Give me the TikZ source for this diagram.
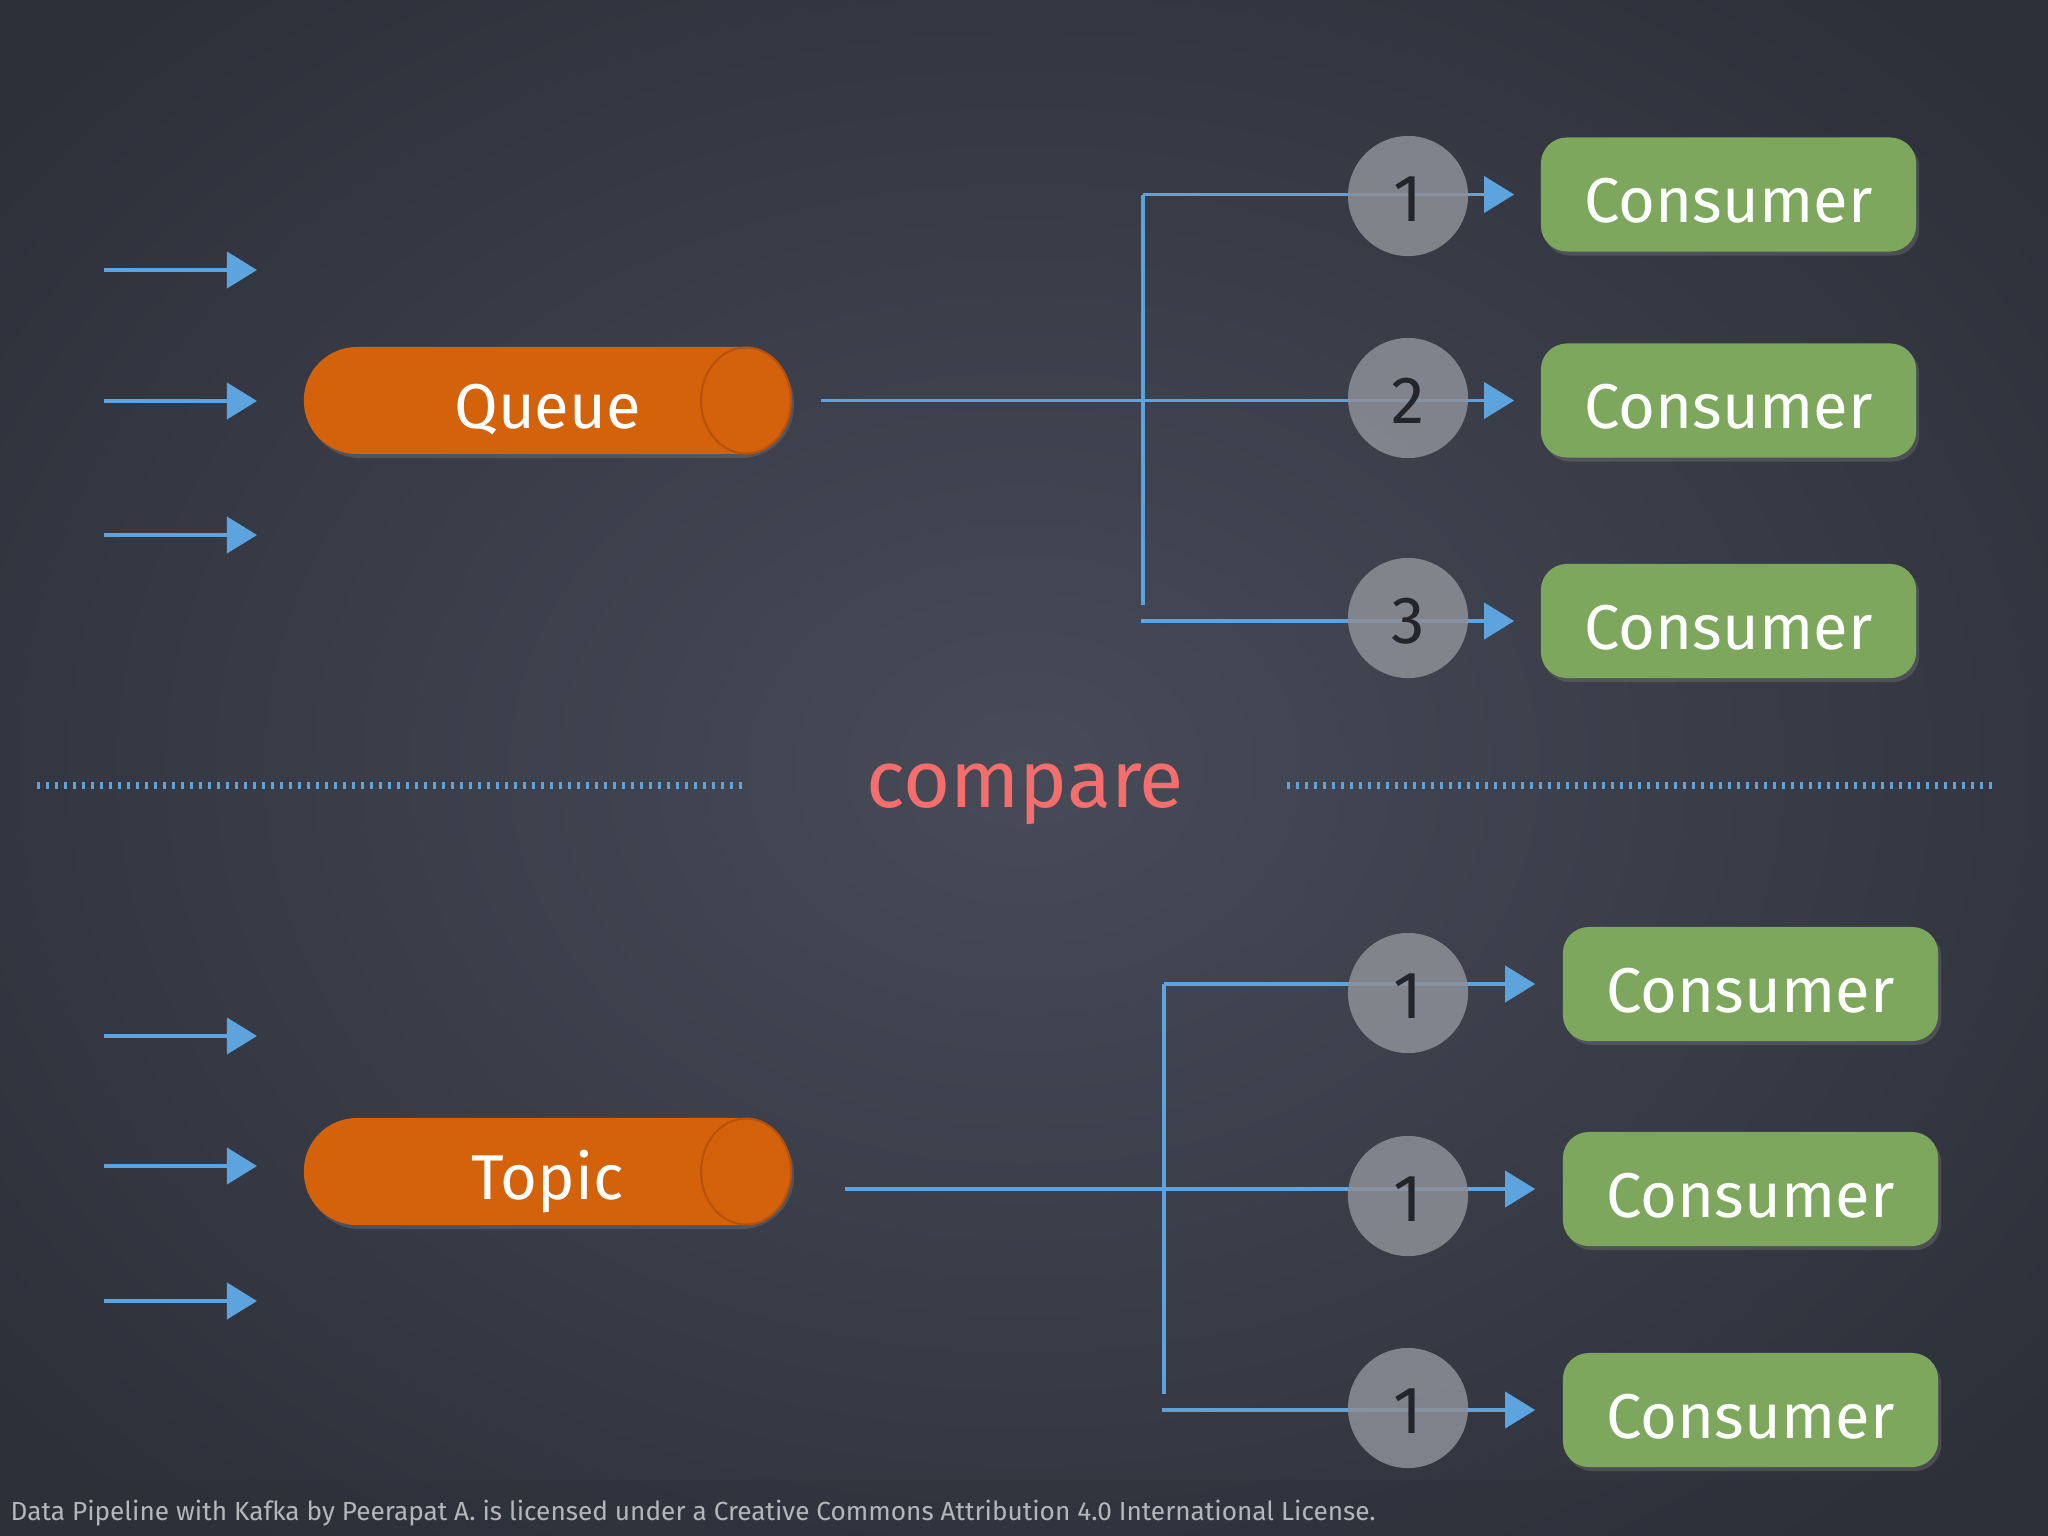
\documentclass[tikz,border=0pt]{standalone}
\usepackage{fontspec}
\setmainfont{Fira Sans}
\usetikzlibrary{arrows.meta,shadows}
\definecolor{bgmid}{HTML}{474B58}
\definecolor{bgout}{HTML}{2D3039}
\definecolor{orangec}{HTML}{D4620A}
\definecolor{orangee}{HTML}{B8520A}
\definecolor{greenc}{HTML}{7DA75C}
\definecolor{grayc}{HTML}{8E9098}
\definecolor{bluec}{HTML}{5DA3DE}
\definecolor{comparec}{HTML}{F46E6E}
\definecolor{footc}{HTML}{B5B6BC}
\definecolor{numc}{HTML}{23252B}
\tikzset{
  flow/.style={draw=bluec, line width=1.1pt, -{Triangle[length=0.3cm,width=0.36cm]}},
  flowline/.style={draw=bluec, line width=1.1pt},
  pill/.style={fill=orangec, rounded corners=0.53cm, minimum width=4.87cm, minimum height=1.07cm,
    inner sep=0pt,
    drop shadow={opacity=0.35, shadow xshift=0.03cm, shadow yshift=-0.04cm}},
  pilltext/.style={text=white, font=\fontsize{18}{20}\selectfont, inner sep=0pt, text height=0.56cm, text depth=0pt},
  consumer/.style={fill=greenc, rounded corners=0.26cm, minimum width=3.75cm, minimum height=1.14cm,
    text=white, font=\fontsize{18}{20}\selectfont, inner sep=0pt, text height=0.56cm, text depth=0pt,
    drop shadow={opacity=0.35, shadow xshift=0.03cm, shadow yshift=-0.04cm}},
  numdisc/.style={circle, fill=grayc, fill opacity=0.85, minimum size=1.2cm, inner sep=0pt},
  numtext/.style={text=numc, font=\fontsize{19}{21}\selectfont, inner sep=0pt, text height=0.5cm, text depth=0pt},
  sep/.style={draw=bluec, line width=0.07cm, dash pattern=on 0.03cm off 0.06cm}
}
\begin{document}
\begin{tikzpicture}[x=0.01cm,y=-0.01cm]
\useasboundingbox (0,0) rectangle (2048,1536);
\fill[bgmid] (0,0) rectangle (2048,1536);
\shade[inner color=bgmid, outer color=bgout, opacity=1] (-300,-250) rectangle (2348,1786);
\fill[bgout, opacity=0.35] (0,1480) rectangle (2048,1536);

% left incoming arrows
\foreach \i/\yy in {1/270, 2/401, 3/535, 4/1036, 5/1166, 6/1301} {
  \coordinate (ls\i) at (104,\yy);
  \coordinate (le\i) at (257,\yy);
  \draw[flow] (ls\i) -- (le\i);
}

% queue & topic
\node[pill] (q) at (547.5,400.5) {};
\draw[draw=orangee, line width=0.6pt, fill=orangec] (746,400.5) ellipse [x radius=45, y radius=53];
\node[pill] (t) at (547.5,1171.5) {};
\draw[draw=orangee, line width=0.6pt, fill=orangec] (746,1171.5) ellipse [x radius=45, y radius=53];
\node[pilltext] (qt) at (q) {Queue};
\node[pilltext] (tt) at (t) {Topic};

% consumers
\node[consumer] (k1) at (1728.5,194.5) {Consumer};
\node[consumer] (k2) at (1728.5,400.5) {Consumer};
\node[consumer] (k3) at (1728.5,621) {Consumer};
\node[consumer] (m1) at (1750.5,984) {Consumer};
\node[consumer] (m2) at (1750.5,1189) {Consumer};
\node[consumer] (m3) at (1750.5,1410) {Consumer};

% queue connectors
\coordinate (qa) at (1143,194.5);
\coordinate (qe) at (1143,605);
\coordinate (qb) at (1141,621);
\path ([xshift=0.29cm]q.east) coordinate (qs);
\draw[flow] (qs |- k2.west) -- ([xshift=-0.26cm]k2.west);
\draw[flowline] (qa) -- (qe);
\draw[flow] (qa) -- ([xshift=-0.26cm]k1.west);
\draw[flow] (qb) -- ([xshift=-0.26cm]k3.west);

% topic connectors
\coordinate (ta) at (1164,984);
\coordinate (te) at (1164,1394);
\coordinate (tb) at (1162,1410);
\path ([xshift=0.53cm]t.east) coordinate (ts);
\draw[flow] (ts |- m2.west) -- ([xshift=-0.27cm]m2.west);
\draw[flowline] (ta) -- (te);
\draw[flow] (ta) -- ([xshift=-0.27cm]m1.west);
\draw[flow] (tb) -- ([xshift=-0.27cm]m3.west);

% number discs
\foreach \n/\yy/\lab in {c1/196/1, c2/398/2, c3/618/3, d1/993/1, d2/1196/1, d3/1408/1} {
  \node[numdisc] (\n) at (1408,\yy) {};
  \node[numtext] at (\n) {\lab};
}

% separator
\coordinate (s1) at (37,785);
\coordinate (s2) at (748,785);
\coordinate (s3) at (1287,785);
\coordinate (s4) at (1998,785);
\draw[sep] (s1) -- (s2);
\draw[sep] (s3) -- (s4);
\node[text=comparec, font=\fontsize{23}{25}\selectfont, inner sep=0pt] (cmp) at (1025,794) {compare};

% footer
\node[text=footc, font=\fontsize{7.45}{9}\selectfont, anchor=west, inner sep=0pt] (foot) at (10,1513)
  {Data Pipeline with Kafka by Peerapat A. is licensed under a Creative Commons Attribution 4.0 International License.};
\end{tikzpicture}
\end{document}
